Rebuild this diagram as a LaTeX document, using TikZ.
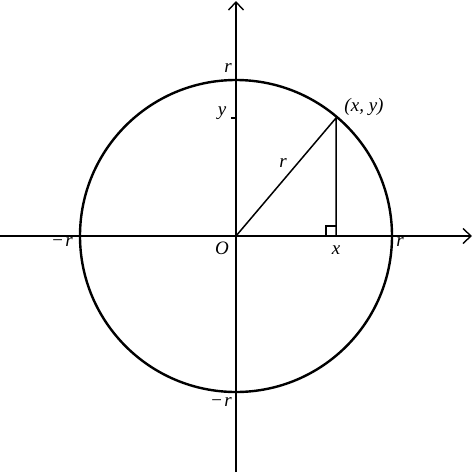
\documentclass[tikz,border=0pt]{standalone}
\usepackage{fontspec}
\setmainfont{Liberation Serif}
\usetikzlibrary{arrows.meta}
\begin{document}
\begin{tikzpicture}[x=1pt,y=-1pt,
  axis/.style={line width=1.4pt,-{Straight Barb[length=8pt,width=15pt,line width=1.4pt]}},
  lbl/.style={inner sep=0pt,font=\fontsize{19}{19}\selectfont\itshape},
  seg/.style={line width=1.5pt}]
\useasboundingbox (0,0) rectangle (474,472);
\coordinate (O) at (236,236);
\coordinate (P) at (336,118);
\coordinate (F) at (336,236);
\coordinate (XL) at (0,236);
\coordinate (XR) at (472,236);
\coordinate (YB) at (236,472);
\coordinate (YT) at (236,1);
\coordinate (YT1) at (231,118);
\draw[axis] (XL) -- (XR);
\draw[axis] (YB) -- (YT);
\draw[line width=2.4pt] (O) circle[radius=156];
\draw[seg] (O) -- (P) -- (F);
\draw[line width=1.3pt] (F) ++(-10,0) -- ++(0,-10) -- ++(10,0);
\draw[line width=1.4pt] (YT1) -- (236,118);
\node[lbl] (lr1) at (228,68) {r};
\node[lbl] (ly) at (222,113) {y};
\node[lbl] (lp) at (364,107) {(x, y)};
\node[lbl] (lr2) at (283,163) {r};
\node[lbl] (lO) at (222,248) {O};
\node[lbl] (lx) at (336,250) {x};
\node[lbl] (lr3) at (400,242) {r};
\node[lbl] (lmr1) at (62,242) {−\kern1.5pt r};
\node[lbl] (lmr2) at (221,402) {−\kern1.5pt r};
\end{tikzpicture}
\end{document}
